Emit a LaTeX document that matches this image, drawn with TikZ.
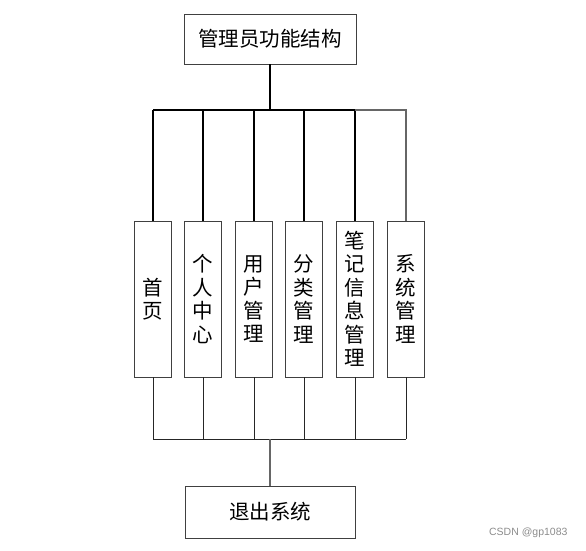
\documentclass[tikz,border=0pt]{standalone}
\usepackage{fontspec}
\newfontfamily\cjk{Noto Sans CJK SC}
\newfontfamily\wmfont{Liberation Sans}
\usetikzlibrary{positioning}

\tikzset{
  box/.style={draw=black!75, fill=white, inner sep=0pt, align=center,
    font=\cjk\fontsize{20.5}{23.5}\selectfont},
  busline/.style={line width=2pt, black},
  thinbus/.style={line width=1.2pt, black!60},
  lowline/.style={line width=1pt, black!85},
}

\begin{document}
\begin{tikzpicture}[x=1pt,y=-1pt]
\useasboundingbox (0,0) rectangle (586,550);

% title and exit boxes
\node[box, minimum width=172pt, minimum height=50pt] (top) at (270,39) {管理员功能结构};
\node[box, minimum width=170pt, minimum height=52pt] (quit) at (270,512) {退出系统};

% module boxes
\foreach \i/\x/\txt in {1/153/{首\\页},2/203/{个\\人\\中\\心},
    3/254/{用\\户\\管\\理},4/304/{分\\类\\管\\理},
    5/355/{笔\\记\\信\\息\\管\\理},6/406/{系\\统\\管\\理}}
\node[box, minimum width=37pt, minimum height=156pt] (m\i) at (\x,299) {\txt};

% upper bus
\coordinate (tb) at (270,110);
\draw[busline] (top.south) -- (tb);
\draw[busline] (m1.north |- tb) -- (m5.north |- tb);
\foreach \i in {1,...,5}
\draw[busline] (m\i.north |- tb) -- (m\i.north);
\draw[thinbus] (m5.north |- tb) -- (m6.north |- tb) -- (m6.north);

% lower bus
\coordinate (bb) at (270,439);
\foreach \i in {1,...,6}
\draw[lowline] (m\i.south) -- (m\i.south |- bb);
\draw[lowline] (m1.south |- bb) -- (m6.south |- bb);
\draw[line width=2pt, black!60] (bb) -- (quit.north);

\node[font=\wmfont\fontsize{10.5}{12}\selectfont, text=black!45, anchor=east] (wm) at (571,533) {CSDN @gp1083};
\end{tikzpicture}
\end{document}
